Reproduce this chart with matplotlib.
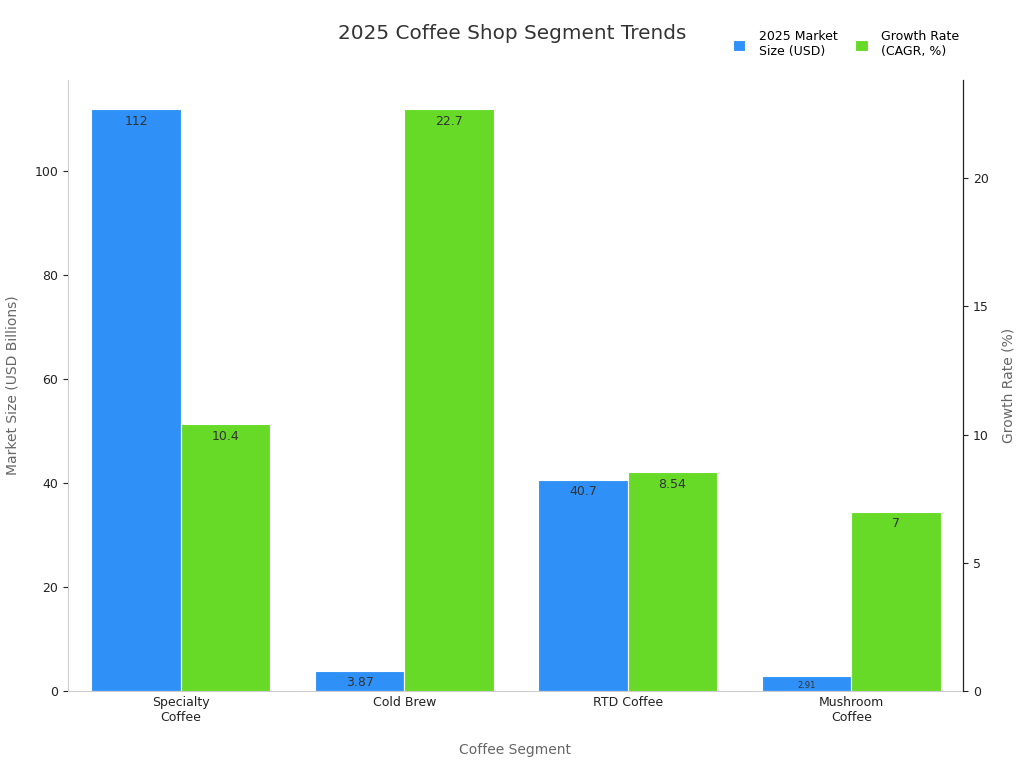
import matplotlib.pyplot as plt
import numpy as np

segments = ["Specialty\nCoffee", "Cold Brew", "RTD Coffee", "Mushroom\nCoffee"]
market_size = [112, 3.87, 40.7, 2.91]
growth_rate = [10.4, 22.7, 8.54, 7]

blue = "#2f91f8"
green = "#66da26"

fig = plt.figure(figsize=(10.24, 7.68), dpi=100)
ax = fig.add_axes([0.0664, 0.1003, 0.874, 0.7955])
ax2 = ax.twinx()

x = np.arange(len(segments))
w = 0.4
b1 = ax.bar(x - w / 2, market_size, w, color=blue, edgecolor="white", linewidth=0.8,
            label="2025 Market\nSize (USD)")
b2 = ax2.bar(x + w / 2, growth_rate, w, color=green, edgecolor="white", linewidth=0.8,
             label="Growth Rate\n(CAGR, %)")

ax.set_xlim(-0.505, 3.5)
ax.set_ylim(0, max(market_size) * 1.05)
ax2.set_ylim(0, max(growth_rate) * 1.05)

for rect, v in zip(b1, market_size):
    fs = 6 if v < 3 else 9
    ax.annotate(f"{v:g}", (rect.get_x() + rect.get_width() / 2, v),
                xytext=(0, -4), textcoords="offset points", ha="center", va="top",
                fontsize=fs, color="#333333")
for rect, v in zip(b2, growth_rate):
    ax2.annotate(f"{v:g}", (rect.get_x() + rect.get_width() / 2, v),
                 xytext=(0, -4), textcoords="offset points", ha="center", va="top",
                 fontsize=9, color="#333333")

ax.set_xticks(x)
ax.set_xticklabels(segments, fontsize=9, color="#222222")
ax.set_xlabel("Coffee Segment", fontsize=10, color="#666666", labelpad=14)
ax.set_ylabel("Market Size (USD Billions)", fontsize=10, color="#666666", labelpad=10.5)
ax2.set_ylabel("Growth Rate (%)", fontsize=10, color="#666666", labelpad=9)
ax.tick_params(axis="y", labelsize=9, colors="#222222")
ax2.tick_params(axis="y", labelsize=9, colors="#222222")
ax.tick_params(axis="x", length=0)

for a in (ax, ax2):
    a.spines["top"].set_visible(False)
ax.spines["left"].set_color("#cccccc")
ax.spines["bottom"].set_color("#cccccc")
ax2.spines["left"].set_visible(False)
ax2.spines["bottom"].set_visible(False)
ax2.spines["right"].set_color("#222222")

fig.text(0.5, 0.957, "2025 Coffee Shop Segment Trends", ha="center", va="center",
         fontsize=14.4, color="#333333")

h1, l1 = ax.get_legend_handles_labels()
h2, l2 = ax2.get_legend_handles_labels()
fig.legend(h1 + h2, l1 + l2, loc="upper right", bbox_to_anchor=(0.948, 0.975), ncol=2,
           frameon=False, fontsize=9, handlelength=1.0, handleheight=1.0,
           columnspacing=1.4, handletextpad=1.1)

fig.savefig("out.png", dpi=100)
